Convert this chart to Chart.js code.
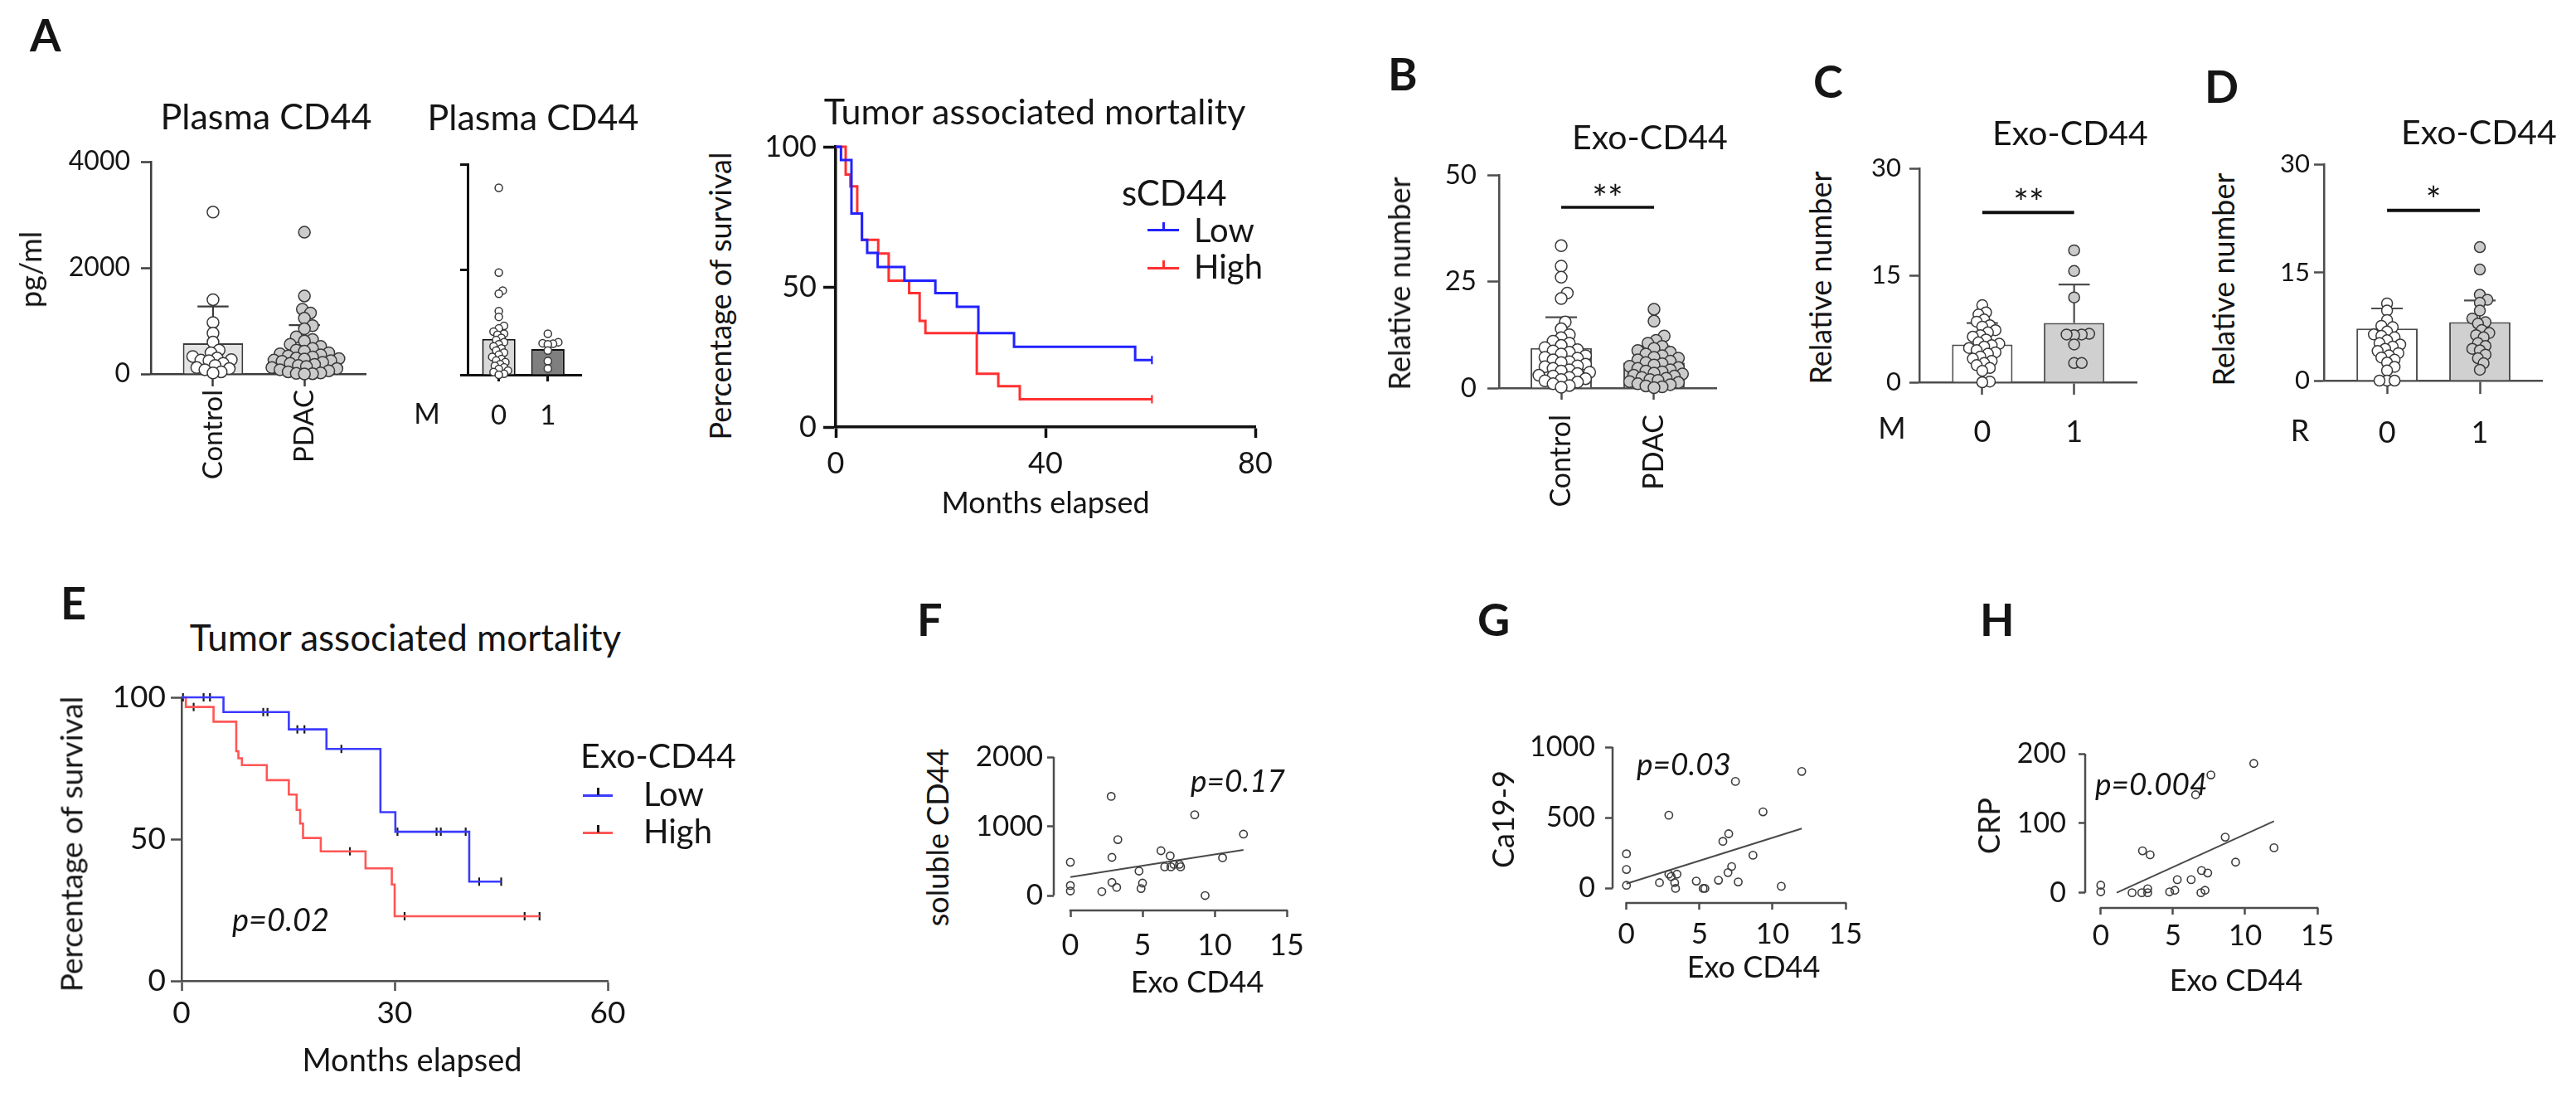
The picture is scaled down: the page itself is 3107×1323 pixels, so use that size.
<!DOCTYPE html>
<html>
<head>
<meta charset="utf-8">
<title>CD44 figure</title>
<script src="https://cdn.jsdelivr.net/npm/chart.js@4.4.1/dist/chart.umd.min.js"></script>
<style>
  html, body { margin: 0; padding: 0; background: #fff; }
  body { position: relative; width: 3107px; height: 1323px; overflow: hidden; font-family: Lato, "Open Sans", sans-serif; color: #151515; }
  .t { position: absolute; white-space: nowrap; line-height: 1; }
  .ln { position: absolute; }
  canvas { position: absolute; }
</style>
</head>
<body>
<script>
// ---- A: plasma CD44 (pg/ml) ----
const plasmaGroups = ['Control', 'PDAC'];
const plasmaControl = [3050, 1400, 970, 770, 600, 450, 400, 330, 300, 270, 260, 250, 200, 160, 120, 100, 80, 40, 20];
const plasmaPdac = [2670, 1470, 1220, 1150, 1050, 910, 850, 700, 650, 620, 560, 520, 480, 450, 430, 400, 380, 360, 340, 320,
  300, 290, 280, 260, 250, 240, 220, 200, 180, 160, 140, 120, 100, 80, 60, 40, 20, 10, 5, 0];
const plasmaMean = [580, 437];
const plasmaSd = [690, 483];

const mGroups = ['0', '1'];
const plasmaM0 = [3550, 1940, 1600, 1540, 1210, 1100, 930, 880, 820, 780, 760, 700, 660, 620, 580, 540, 500, 460, 420, 380,
  340, 300, 270, 240, 200, 170, 140, 110, 80, 50, 20, 0];
const plasmaM1 = [780, 620, 600, 590, 580, 460, 260, 120];
const plasmaMMean = [680, 488];

// sCD44 survival, months vs % surviving
const sLowT = [0, 1.0, 3.0, 5.0, 6.0, 8.0, 13.1, 19.0, 23.1, 27.2, 34.0, 57.1, 60.3];
const sLowS = [100, 95.3, 76.2, 66.8, 62.1, 57.1, 52.2, 47.8, 42.9, 33.5, 28.6, 23.9, 23.9];
const sHighT = [0, 1.9, 2.8, 4.1, 5.0, 8.1, 10.1, 14.0, 16.0, 17.1, 26.9, 31.0, 35.1, 60.3];
const sHighS = [100, 90.1, 85.9, 76.2, 66.8, 61.9, 52.2, 47.8, 37.9, 33.5, 19.0, 14.6, 9.9, 9.9];
const sLowCensT = [60.3], sLowCensS = [23.9];
const sHighCensT = [60.3], sHighCensS = [9.9];

// ---- B-D: exosomal CD44 (relative number) ----
const exoGroups = ['Control', 'PDAC'];
const exoControl = [33.4, 28.6, 26.0, 22.3, 21.0, 15.5, 13.9, 12.5, 11.8, 11.0, 10.5, 10.0, 9.5, 9.0, 8.7, 8.4, 8.0, 7.6, 7.2, 7.0,
  6.6, 6.2, 6.0, 5.6, 5.2, 5.0, 4.6, 4.3, 4.0, 3.7, 3.4, 3.0, 2.8, 2.5, 2.2, 2.0, 1.7, 1.4, 1.0, 0.6, 0.2];
const exoPdac = [18.5, 15.7, 12.2, 11.2, 10.5, 9.8, 9.3, 8.8, 8.4, 8.0, 7.6, 7.2, 7.0, 6.6, 6.3, 6.0, 5.7, 5.4, 5.1, 4.8,
  4.6, 4.3, 4.0, 3.8, 3.5, 3.3, 3.0, 2.8, 2.5, 2.3, 2.0, 1.8, 1.5, 1.3, 1.0, 0.8, 0.5, 0.3, 0.1];
const exoMean = [9.4, 6.0];
const exoSd = [7.2, 3.8];

const exoM0 = [10.8, 9.8, 9.5, 8.8, 8.5, 8.0, 7.8, 7.3, 7.0, 6.6, 6.4, 6.0, 5.6, 5.4, 5.2, 5.0, 4.8, 4.5, 4.2, 4.0,
  3.6, 3.3, 3.0, 2.7, 2.4, 2.0, 1.6, 0.1, 0];
const exoM1 = [18.5, 15.6, 11.9, 6.8, 6.7, 6.6, 6.7, 5.3, 2.7, 2.7];
const exoMMean = [5.3, 8.3];
const exoMSd = [3.0, 5.4];

const rGroups = ['0', '1'];
const exoR0 = [10.7, 9.7, 8.4, 7.6, 7.4, 6.8, 6.4, 6.2, 6.0, 5.6, 5.2, 5.0, 4.7, 4.4, 4.1, 3.8, 3.5, 3.2, 2.9, 2.5, 1.9, 1.4, 0, 0, 0];
const exoR1 = [18.5, 15.4, 11.9, 11.2, 10.8, 9.7, 8.6, 8.1, 7.9, 7.0, 6.6, 6.3, 6.0, 5.2, 4.8, 4.4, 4.2, 3.6, 3.1, 2.4, 1.5];
const exoRMean = [7.2, 8.1];
const exoRSd = [2.8, 3.0];

// ---- E: Exo-CD44 survival ----
const eLowT = [0, 5.9, 15.1, 20.4, 28.0, 30.1, 40.5, 45.0];
const eLowS = [100, 94.8, 88.7, 81.8, 59.5, 52.6, 35.0, 35.0];
const eHighT = [0, 0.6, 4.5, 7.7, 8.0, 8.5, 12.0, 15.1, 16.2, 16.7, 17.1, 19.6, 25.9, 29.6, 30.0, 50.4];
const eHighS = [100, 96.6, 91.4, 81.0, 78.5, 76.1, 70.8, 65.7, 60.3, 55.5, 50.4, 45.7, 39.7, 34.0, 22.8, 22.8];
const eLowCensT = [3.1, 4.0, 11.5, 12.1, 16.3, 17.3, 22.5, 30.4, 35.9, 36.5, 40.0, 41.9, 45.0];
const eLowCensS = [100, 100, 94.8, 94.8, 88.7, 88.7, 81.8, 52.6, 52.6, 52.6, 52.6, 35.0, 35.0];
const eHighCensT = [0.2, 1.7, 23.7, 31.4, 48.3, 50.4];
const eHighCensS = [100, 96.6, 45.7, 22.8, 22.8, 22.8];

// ---- F-H: correlations with Exo CD44 ----
const fExo = [2.83, 8.62, 12.0, 3.29, 0, 2.88, 6.28, 6.92, 6.54, 6.97, 7.18, 7.56, 7.64, 10.55, 4.76, 0, 0, 2.18, 2.88, 3.21, 5.0, 4.9, 9.34];
const fSoluble = [1432, 1166, 887, 808, 481, 551, 647, 573, 415, 415, 450, 450, 415, 546, 354, 145, 66, 57, 189, 118, 180, 101, 0];
const fFitX = [0, 12], fFitY = [266, 660];

const gExo = [12.0, 7.46, 9.35, 2.9, 7.0, 6.6, 8.66, 0, 0, 0, 7.2, 6.95, 2.9, 3.06, 3.46, 3.3, 3.36, 2.26, 4.78, 5.25, 5.37, 6.3, 7.65, 10.6];
const gCa199 = [828, 757, 542, 518, 387, 333, 235, 245, 134, 22, 155, 112, 101, 84, 101, 41, 0, 41, 52, 0, 0, 58, 46, 15];
const gFitX = [0, 12], gFitY = [33, 424];

const hExo = [10.6, 7.63, 6.57, 8.62, 12.0, 2.89, 3.42, 9.34, 6.98, 7.41, 5.3, 6.26, 0, 0, 2.17, 2.84, 3.25, 3.25, 4.77, 5.13, 6.94, 7.22];
const hCrp = [186, 169.5, 141, 80, 64.7, 60.3, 54.6, 44, 31.9, 28.4, 18.8, 18.8, 10.9, 1.3, 0, 0, 5.7, 0, 1.3, 3.5, 0, 3.5];
const hFitX = [1.1, 12], hFitY = [0, 103];

// ---------------------------------------------------------------
Chart.defaults.font.family = 'Lato';
Chart.defaults.color = '#151515';

const AX = '#4d4d4d';
const PT = '#383838';
const GREY = '#cbcbcb';
const CAP = 0.17;

function txt(s, x, y, size, o = {}) {
  const d = document.createElement('div');
  d.className = 't';
  d.textContent = s;
  d.style.left = x + 'px';
  d.style.top = y + 'px';
  d.style.fontSize = size + 'px';
  if (o.bold) d.style.fontWeight = 700;
  if (o.italic) d.style.fontStyle = 'italic';
  const tx = o.anchor === 'l' ? '0' : o.anchor === 'r' ? '-100%' : '-50%';
  d.style.transform = `translate(${tx},-50%)` + (o.rot ? ` rotate(${o.rot}deg)` : '');
  document.body.appendChild(d);
}

function legendLine(x1, x2, y, color, tickColor) {
  const l = document.createElement('div');
  l.className = 'ln';
  l.style.cssText = `left:${x1}px;top:${y - 1.5}px;width:${x2 - x1}px;height:3px;background:${color}`;
  document.body.appendChild(l);
  const t = document.createElement('div');
  t.className = 'ln';
  t.style.cssText = `left:${(x1 + x2) / 2 - 1.5}px;top:${y - 9}px;width:3px;height:9px;background:${tickColor}`;
  document.body.appendChild(t);
}

// draws axis lines only over the data range (GraphPad style offset axes)
const offsetAxes = {
  id: 'offsetAxes',
  afterDraw(chart, args, o) {
    const {ctx, chartArea: a, scales: {x, y}} = chart;
    ctx.save();
    ctx.strokeStyle = o.color;
    ctx.lineWidth = o.width;
    ctx.beginPath();
    ctx.moveTo(a.left, y.getPixelForValue(o.y0));
    ctx.lineTo(a.left, y.getPixelForValue(o.y1));
    ctx.moveTo(x.getPixelForValue(o.x0) - o.width / 2, a.bottom);
    ctx.lineTo(x.getPixelForValue(o.x1) + o.width / 2, a.bottom);
    ctx.stroke();
    ctx.restore();
  }
};

function scale(min, max, ticks, o = {}) {
  const color = o.color || AX, lw = o.lw || 2.5;
  return {
    type: 'linear', min, max, bounds: 'data', offset: false,
    afterBuildTicks: s => { s.ticks = ticks.map(v => ({value: v})); },
    ticks: {
      autoSkip: false, display: !o.hide,
      minRotation: o.rot || 0, maxRotation: o.rot || 0,
      padding: o.pad ?? 6,
      font: {size: o.size || 34, family: 'Lato'}, color: '#151515',
      callback: (v, i) => o.labels ? o.labels[i] : String(v)
    },
    grid: {display: true, drawOnChartArea: false, drawTicks: true, offset: false,
      tickLength: o.tick ?? 12, tickWidth: lw, tickColor: color},
    border: {display: o.border ?? true, color, width: lw}
  };
}

function makeChart(area, yW, xH, datasets, xs, ys, axes) {
  const pad = {left: 4, top: 40, right: 60, bottom: 4};
  const w = Math.round(area.r - area.l) + yW + pad.left + pad.right;
  const h = Math.round(area.b - area.t) + xH + pad.top + pad.bottom;
  const cv = document.createElement('canvas');
  cv.width = w; cv.height = h;
  cv.style.cssText = `left:${area.l - yW - pad.left}px;top:${area.t - pad.top}px;width:${w}px;height:${h}px`;
  document.body.appendChild(cv);
  xs.afterFit = s => { s.height = xH; };
  ys.afterFit = s => { s.width = yW; };
  return new Chart(cv, {
    type: 'scatter',
    data: {datasets},
    options: {
      responsive: false, animation: false, events: [], devicePixelRatio: 1,
      layout: {padding: pad},
      scales: {x: xs, y: ys},
      plugins: {legend: {display: false}, tooltip: {enabled: false}, offsetAxes: axes || {}}
    },
    plugins: axes ? [offsetAxes] : []
  });
}

// spread the dots of each group sideways inside the bar, allowing some overlap
function swarm(chart, r, halfW) {
  const xs = chart.scales.x, ys = chart.scales.y;
  const unit = xs.getPixelForValue(1) - xs.getPixelForValue(0);
  const maxOff = halfW * unit;
  const step = r * 0.35;
  chart.data.datasets.filter(d => d.type === 'scatter').forEach(d => {
    const placed = [];
    d.data.slice().sort((a, b) => a.y - b.y).forEach(p => {
      const py = ys.getPixelForValue(p.y);
      let best = 0, bestGap = -1;
      for (let k = 0; ; k++) {
        const off = (k % 2 ? 1 : -1) * Math.ceil(k / 2) * step;
        if (Math.abs(off) > maxOff) break;
        const gap = placed.reduce((m, q) => Math.min(m, Math.hypot(q.x - off, q.y - py)), Infinity);
        if (gap >= 1.3 * r) { best = off; bestGap = gap; break; }
        if (gap > bestGap) { bestGap = gap; best = off; }
      }
      placed.push({x: best, y: py});
      p.x = p.cat + best / unit;
    });
  });
  chart.update('none');
}

function dotBar(area, o) {
  const ds = [];
  const barPct = o.barPct || 0.66;
  ds.push({type: 'bar', data: o.means.map((m, i) => ({x: i, y: m})), backgroundColor: o.barFill,
    borderColor: o.color || AX, borderWidth: 2, barPercentage: barPct, categoryPercentage: 1, order: 3});
  if (o.sds) {
    const seg = [];
    o.means.forEach((m, i) => {
      const top = m + o.sds[i];
      seg.push({x: i, y: m}, {x: i, y: top}, {x: i, y: null}, {x: i - CAP, y: top}, {x: i + CAP, y: top}, {x: i, y: null});
    });
    ds.push({type: 'line', data: seg, borderColor: o.color || AX, borderWidth: 2.2, pointRadius: 0,
      spanGaps: false, showLine: true, clip: false, order: 2});
  }
  o.values.forEach((vals, i) => ds.push({type: 'scatter', data: vals.map(v => ({x: i, y: v, cat: i})),
    pointRadius: o.r, pointBackgroundColor: o.dotFill[i], pointBorderColor: PT, pointBorderWidth: 1.5,
    clip: false, order: 1}));
  if (o.sig) ds.push({type: 'line', data: [{x: 0, y: o.sig}, {x: 1, y: o.sig}], borderColor: '#111',
    borderWidth: o.sigW || 4, pointRadius: 0, showLine: true, clip: false, order: 0});
  const chart = makeChart(area, o.yW, o.xH, ds, o.x, o.y);
  swarm(chart, o.r, barPct / 2 + (o.spill || 0));
  return chart;
}

function kmPanel(area, o) {
  const ds = [];
  o.curves.forEach(c => {
    ds.push({type: 'line', data: c.t.map((t, i) => ({x: t, y: c.s[i]})), stepped: 'before',
      borderColor: c.color, borderWidth: o.lw, pointRadius: 0, fill: false, showLine: true, clip: 6});
    ds.push({type: 'scatter', data: c.ct.map((t, i) => ({x: t, y: c.cs[i]})), pointStyle: 'line',
      pointRotation: 90, pointRadius: 5, pointBorderColor: c.tick, pointBorderWidth: 2.2, clip: false});
  });
  return makeChart(area, o.yW, o.xH, ds, o.x, o.y);
}

function corrPanel(area, o) {
  const ds = [
    {type: 'scatter', data: o.xv.map((v, i) => ({x: v, y: o.yv[i]})), pointRadius: 4.6,
      pointBackgroundColor: 'rgba(255,255,255,0)', pointBorderColor: '#3c3c3c', pointBorderWidth: 1.6, clip: false},
    {type: 'line', data: o.fx.map((v, i) => ({x: v, y: o.fy[i]})), borderColor: '#4a4a4a', borderWidth: 2,
      pointRadius: 0, showLine: true, clip: false}
  ];
  return makeChart(area, 110, 70, ds, o.x, o.y, o.axes);
}

// ---------------- A ----------------
dotBar({l: 182, t: 195, r: 441, b: 451}, {
  yW: 140, xH: 150, r: 7, spill: 0.05,
  means: plasmaMean, sds: plasmaSd, values: [plasmaControl, plasmaPdac],
  barFill: ['#e4e4e4', '#d2d2d2'], dotFill: ['#ffffff', GREY], color: '#3c3c3c',
  x: scale(-0.68, 1.67, [0, 1], {labels: plasmaGroups, rot: 90, size: 33, tick: 15, pad: 4, color: '#3c3c3c'}),
  y: scale(0, 4000, [0, 2000, 4000], {size: 32, tick: 12, pad: 13, color: '#3c3c3c'})
});

dotBar({l: 563.5, t: 198, r: 700, b: 452}, {
  yW: 60, xH: 80, r: 4.5, barPct: 0.68, spill: 0.05,
  means: plasmaMMean, values: [plasmaM0, plasmaM1],
  barFill: ['#d9d9d9', '#7f7f7f'], dotFill: ['#ffffff', '#ffffff'], color: '#111',
  x: scale(-0.636, 1.68, [0, 1], {labels: mGroups, size: 33, tick: 8, pad: 22, color: '#111', lw: 3}),
  y: scale(0, 4000, [0, 2000, 4000], {hide: true, tick: 9, color: '#111', lw: 3})
});

kmPanel({l: 1008, t: 177, r: 1514, b: 515}, {
  yW: 110, xH: 70, lw: 3,
  curves: [
    {t: sLowT, s: sLowS, ct: sLowCensT, cs: sLowCensS, color: '#2222ff', tick: '#2222ff'},
    {t: sHighT, s: sHighS, ct: sHighCensT, cs: sHighCensS, color: '#ff3030', tick: '#ff3030'}
  ],
  x: scale(0, 80, [0, 40, 80], {size: 36, tick: 13, pad: 10, color: '#111', lw: 3.5}),
  y: scale(0, 100, [0, 50, 100], {size: 36, tick: 15, pad: 8, color: '#111', lw: 3.5})
});

// ---------------- B, C, D ----------------
dotBar({l: 1808, t: 211, r: 2070, b: 468}, {
  yW: 110, xH: 150, r: 7, spill: 0.04,
  means: exoMean, sds: exoSd, values: [exoControl, exoPdac], sig: 42.4, sigW: 3.5,
  barFill: ['#ffffff', '#d0d0d0'], dotFill: ['#ffffff', GREY],
  x: scale(-0.67, 1.67, [0, 1], {labels: exoGroups, rot: 90, size: 34, tick: 14, pad: 18}),
  y: scale(0, 50, [0, 25, 50], {size: 33, tick: 14, pad: 13})
});

dotBar({l: 2315, t: 203, r: 2577, b: 461}, {
  yW: 90, xH: 80, r: 6.5, spill: 0.02,
  means: exoMMean, sds: exoMSd, values: [exoM0, exoM1], sig: 23.8,
  barFill: ['#ffffff', '#d0d0d0'], dotFill: ['#ffffff', GREY],
  x: scale(-0.685, 1.68, [0, 1], {labels: mGroups, size: 36, tick: 15, pad: 24}),
  y: scale(0, 30, [0, 15, 30], {size: 31, tick: 12, pad: 10})
});

dotBar({l: 2803, t: 198, r: 3066, b: 459}, {
  yW: 90, xH: 80, r: 6.5, spill: 0.02,
  means: exoRMean, sds: exoRSd, values: [exoR0, exoR1], sig: 23.6,
  barFill: ['#ffffff', '#d0d0d0'], dotFill: ['#ffffff', GREY],
  x: scale(-0.68, 1.67, [0, 1], {labels: rGroups, size: 36, tick: 16, pad: 26}),
  y: scale(0, 30, [0, 15, 30], {size: 31, tick: 12, pad: 5})
});

// ---------------- E ----------------
kmPanel({l: 219, t: 841, r: 733, b: 1183}, {
  yW: 120, xH: 70, lw: 2.6,
  curves: [
    {t: eLowT, s: eLowS, ct: eLowCensT, cs: eLowCensS, color: '#3b3bff', tick: '#1a1a1a'},
    {t: eHighT, s: eHighS, ct: eHighCensT, cs: eHighCensS, color: '#ff5656', tick: '#1a1a1a'}
  ],
  x: scale(0, 60, [0, 30, 60], {size: 37, tick: 12, pad: 5}),
  y: scale(0, 100, [0, 50, 100], {size: 37, tick: 13, pad: 6})
});

// ---------------- F, G, H ----------------
corrPanel({l: 1271, t: 912.6, r: 1552, b: 1098}, {
  xv: fExo, yv: fSoluble, fx: fFitX, fy: fFitY,
  x: scale(-1.15, 15, [0, 5, 10, 15], {size: 36, tick: 8, pad: 13, border: false}),
  y: scale(-215, 2000, [0, 1000, 2000], {size: 35, tick: 8, pad: 5, border: false}),
  axes: {x0: 0, x1: 15, y0: 0, y1: 2000, color: AX, width: 2.5}
});

corrPanel({l: 1945, t: 900.5, r: 2225.7, b: 1088}, {
  xv: gExo, yv: gCa199, fx: gFitX, fy: gFitY,
  x: scale(-0.95, 15, [0, 5, 10, 15], {size: 35, tick: 8, pad: 9, border: false}),
  y: scale(-103, 1000, [0, 500, 1000], {size: 34, tick: 9, pad: 12, border: false}),
  axes: {x0: 0, x1: 15, y0: 0, y1: 1000, color: AX, width: 2.5}
});

corrPanel({l: 2515, t: 909, r: 2794.8, b: 1094.6}, {
  xv: hExo, yv: hCrp, fx: hFitX, fy: hFitY,
  x: scale(-1.08, 15, [0, 5, 10, 15], {size: 35, tick: 8, pad: 5, border: false}),
  y: scale(-21.9, 200, [0, 100, 200], {size: 34, tick: 8, pad: 15, border: false}),
  axes: {x0: 0, x1: 15, y0: 0, y1: 200, color: AX, width: 2.5}
});

// ---------------- text ----------------
txt('A', 36, 42, 54, {bold: true, anchor: 'l'});
txt('B', 1674, 89, 54, {bold: true, anchor: 'l'});
txt('C', 2187, 98, 54, {bold: true, anchor: 'l'});
txt('D', 2659, 104, 54, {bold: true, anchor: 'l'});
txt('E', 73, 727, 54, {bold: true, anchor: 'l'});
txt('F', 1106, 747, 54, {bold: true, anchor: 'l'});
txt('G', 1782, 747, 54, {bold: true, anchor: 'l'});
txt('H', 2388, 747, 54, {bold: true, anchor: 'l'});

txt('Plasma CD44', 321, 139, 43);
txt('Plasma CD44', 643, 140, 43);
txt('Tumor associated mortality', 1248, 133, 43);
txt('Exo-CD44', 1990, 164, 41);
txt('Exo-CD44', 2497, 159, 41);
txt('Exo-CD44', 2990, 158, 41);
txt('Tumor associated mortality', 489, 768, 44);

txt('pg/ml', 36, 325, 36, {rot: -90});
txt('M', 515, 498, 34);
txt('Percentage of survival', 868, 357, 36, {rot: -90});
txt('Months elapsed', 1261, 605, 36);
txt('sCD44', 1353, 232, 42, {anchor: 'l'});
txt('Low', 1440, 277, 40, {anchor: 'l'});
txt('High', 1440, 321, 40, {anchor: 'l'});
legendLine(1384, 1422, 277, '#2222ff', '#2222ff');
legendLine(1384, 1422, 323, '#ff3030', '#ff3030');

txt('Relative number', 1687, 342, 36, {rot: -90});
txt('Relative number', 2195, 335, 36, {rot: -90});
txt('Relative number', 2681, 337, 36, {rot: -90});
txt('**', 1939, 238, 44);
txt('**', 2447, 243, 44);
txt('*', 2935, 240, 44);
txt('M', 2282, 515, 36);
txt('R', 2774, 518, 36);

txt('Percentage of survival', 85, 1018, 37, {rot: -90});
txt('Months elapsed', 497, 1277, 38);
txt('p=0.02', 280, 1108, 38, {italic: true, anchor: 'l'});
txt('Exo-CD44', 700, 910, 41, {anchor: 'l'});
txt('Low', 776, 957, 40, {anchor: 'l'});
txt('High', 776, 1002, 40, {anchor: 'l'});
legendLine(703, 739, 959, '#3b3bff', '#1a1a1a');
legendLine(703, 739, 1004, '#ff5656', '#1a1a1a');

txt('soluble CD44', 1130, 1010, 36, {rot: -90});
txt('Exo CD44', 1444, 1183, 36);
txt('p=0.17', 1436, 940, 37, {italic: true, anchor: 'l'});
txt('Ca19-9', 1812, 988, 36, {rot: -90});
txt('Exo CD44', 2115, 1165, 36);
txt('p=0.03', 1974, 920, 37, {italic: true, anchor: 'l'});
txt('CRP', 2398, 996, 36, {rot: -90});
txt('Exo CD44', 2697, 1181, 36);
txt('p=0.004', 2527, 944, 37, {italic: true, anchor: 'l'});
</script>
</body>
</html>
